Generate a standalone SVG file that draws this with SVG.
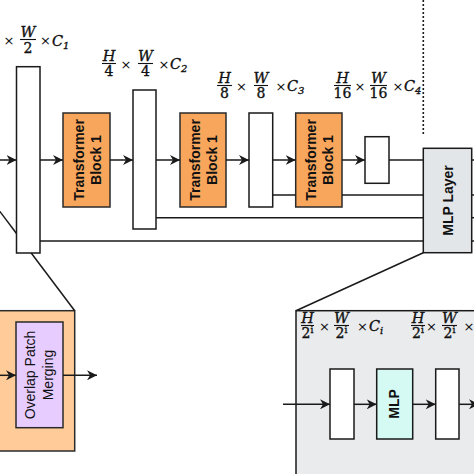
<svg xmlns="http://www.w3.org/2000/svg" width="474" height="474" viewBox="0 0 474 474">
<defs>
<marker id="ah" viewBox="-10 -5 10 10" refX="0" refY="0" markerWidth="10" markerHeight="10" markerUnits="userSpaceOnUse" orient="auto">
<path d="M-10,-5 L0,0 L-10,5 L-7,0 z" fill="#1a1a1a"/>
</marker>
<style>
.c{fill:none;stroke:#1a1a1a;stroke-width:1.5}
.a{marker-end:url(#ah)}
.box{fill:#ffffff;stroke:#1a1a1a;stroke-width:1.5}
.tb{fill:#F7A65C;stroke:#2a2a2a;stroke-width:1.5}
.bt{font-family:"Liberation Sans",Arial,sans-serif;font-weight:bold;font-size:14px;fill:#111;text-anchor:middle}
.rt{font-family:"Liberation Sans",Arial,sans-serif;font-size:14px;fill:#111;text-anchor:middle}
.m{font-family:"DejaVu Serif","Liberation Serif",serif;font-size:14px;fill:#111;stroke:#111;stroke-width:0.35;text-anchor:middle}
.x{font-family:"DejaVu Sans","Liberation Sans",sans-serif;font-size:13px;fill:#111;text-anchor:middle}
.mi{font-family:"DejaVu Serif","Liberation Serif",serif;font-size:14.5px;font-style:italic;fill:#111;stroke:#111;stroke-width:0.35}
.fl{stroke:#111;stroke-width:1.1}
</style>
</defs>

<!-- nodes -->
<g id="patch-merging-detail">
<rect x="-2" y="310.7" width="76.7" height="140.3" fill="#FFCC99" stroke="#2a2a2a" stroke-width="1.5"/>
<rect x="16" y="322" width="47" height="105.7" fill="#E6CCFF" stroke="#2a2a2a" stroke-width="1.5"/>
<g transform="translate(39.5,375) rotate(-90)">
<text class="rt" x="0" y="-4.5">Overlap Patch</text>
<text class="rt" x="0" y="13.5">Merging</text>
</g>
</g>

<g id="mlp-detail">
<rect x="296" y="310.7" width="200" height="200" fill="#E9EBED" stroke="#1a1a1a" stroke-width="1.5"/>
<g id="label-i">
<text class="mi" x="307.5" y="323" text-anchor="middle">H</text>
<line class="fl" x1="301" y1="325.5" x2="314" y2="325.5"/>
<text class="m" x="307.5" y="338">2<tspan font-size="9" dy="-5">i</tspan></text>
<text class="x" x="324.5" y="330.5">×</text>
<text class="mi" x="341.5" y="323" text-anchor="middle">W</text>
<line class="fl" x1="334" y1="325.5" x2="349" y2="325.5"/>
<text class="m" x="341.5" y="338">2<tspan font-size="9" dy="-5">i</tspan></text>
<text class="x" x="362.5" y="330.5">×</text>
<text class="mi" x="369" y="330.5">C<tspan font-size="10" dy="3">i</tspan></text>
</g>
<g id="label-i2">
<text class="mi" x="418" y="323" text-anchor="middle">H</text>
<line class="fl" x1="411" y1="325.5" x2="425" y2="325.5"/>
<text class="m" x="418" y="338">2<tspan font-size="9" dy="-5">i</tspan></text>
<text class="x" x="431.5" y="330.5">×</text>
<text class="mi" x="449.5" y="323" text-anchor="middle">W</text>
<line class="fl" x1="442" y1="325.5" x2="457" y2="325.5"/>
<text class="m" x="449.5" y="338">2<tspan font-size="9" dy="-5">i</tspan></text>
<text class="x" x="469" y="330.5">×</text>
</g>
</g>

<g id="feat1"><rect class="box" x="16.5" y="66.7" width="23.5" height="186.3"/></g>
<g id="feat2"><rect class="box" x="133" y="90" width="23" height="139"/></g>
<g id="feat3"><rect class="box" x="249" y="113" width="23.7" height="94"/></g>
<g id="feat4"><rect class="box" x="365" y="136.7" width="24" height="46.6"/></g>

<g id="tblock1">
<rect class="tb" x="63" y="113" width="47" height="94"/>
<g transform="translate(86.5,160) rotate(-90)"><text class="bt" x="0" y="-3">Transformer</text><text class="bt" x="0" y="14">Block 1</text></g>
</g>
<g id="tblock2">
<rect class="tb" x="180" y="113" width="46" height="94"/>
<g transform="translate(203,160) rotate(-90)"><text class="bt" x="0" y="-3">Transformer</text><text class="bt" x="0" y="14">Block 1</text></g>
</g>
<g id="tblock3">
<rect class="tb" x="295.7" y="113" width="46.3" height="94"/>
<g transform="translate(318.8,160) rotate(-90)"><text class="bt" x="0" y="-3">Transformer</text><text class="bt" x="0" y="14">Block 1</text></g>
</g>

<g id="mlp-layer">
<rect x="423.3" y="148.3" width="48.4" height="104.4" fill="#E3E6E8" stroke="#1a1a1a" stroke-width="1.5"/>
<g transform="translate(447.5,200.5) rotate(-90)"><text class="bt" x="0" y="5">MLP Layer</text></g>
</g>

<g id="in-box-a"><rect class="box" x="330" y="369" width="24" height="70"/></g>
<g id="mlp">
<rect x="376.7" y="369" width="36" height="70" fill="#D4FAF3" stroke="#1a1a1a" stroke-width="1.5"/>
<g transform="translate(394.7,404) rotate(-90)"><text class="bt" x="0" y="4.5" font-size="13">MLP</text></g>
</g>
<g id="in-box-b"><rect class="box" x="435.7" y="369" width="23.3" height="70"/></g>

<!-- labels -->
<g id="label1">
<text class="x" x="9" y="45">×</text>
<text class="mi" x="28" y="37" text-anchor="middle">W</text>
<line class="fl" x1="20" y1="39.5" x2="36" y2="39.5"/>
<text class="m" x="28" y="52.5">2</text>
<text class="x" x="45.5" y="45">×</text>
<text class="mi" x="52" y="45.5">C<tspan font-size="10" dy="3">1</tspan></text>
</g>
<g id="label2">
<text class="mi" x="109" y="61" text-anchor="middle">H</text>
<line class="fl" x1="102" y1="63.5" x2="116" y2="63.5"/>
<text class="m" x="109" y="76">4</text>
<text class="x" x="126" y="68.5">×</text>
<text class="mi" x="145.5" y="61" text-anchor="middle">W</text>
<line class="fl" x1="138" y1="63.5" x2="153" y2="63.5"/>
<text class="m" x="145.5" y="76">4</text>
<text class="x" x="164" y="68.5">×</text>
<text class="mi" x="170" y="69">C<tspan font-size="10" dy="3">2</tspan></text>
</g>
<g id="label3">
<text class="mi" x="224.5" y="83" text-anchor="middle">H</text>
<line class="fl" x1="217" y1="85.5" x2="232" y2="85.5"/>
<text class="m" x="224.5" y="98">8</text>
<text class="x" x="241.5" y="90.5">×</text>
<text class="mi" x="261" y="83" text-anchor="middle">W</text>
<line class="fl" x1="254" y1="85.5" x2="268" y2="85.5"/>
<text class="m" x="261" y="98">8</text>
<text class="x" x="281" y="90.5">×</text>
<text class="mi" x="287" y="91">C<tspan font-size="10" dy="3">3</tspan></text>
</g>
<g id="label4">
<text class="mi" x="342.5" y="83" text-anchor="middle">H</text>
<line class="fl" x1="334" y1="85.5" x2="351" y2="85.5"/>
<text class="m" x="342.5" y="98">16</text>
<text class="x" x="360" y="90.5">×</text>
<text class="mi" x="378.5" y="83" text-anchor="middle">W</text>
<line class="fl" x1="370" y1="85.5" x2="387" y2="85.5"/>
<text class="m" x="378.5" y="98">16</text>
<text class="x" x="398" y="90.5">×</text>
<text class="mi" x="404" y="91">C<tspan font-size="10" dy="3">4</tspan></text>
</g>

<!-- connectors -->
<g id="connectors">
<line x1="423.3" y1="0" x2="423.3" y2="135" stroke="#1a1a1a" stroke-width="1.6" stroke-dasharray="2,2"/>
<line class="c a" x1="-2" y1="160" x2="16.5" y2="160"/>
<line class="c a" x1="40" y1="160" x2="63" y2="160"/>
<line class="c a" x1="110" y1="160" x2="133" y2="160"/>
<line class="c a" x1="156" y1="160" x2="180" y2="160"/>
<line class="c a" x1="226" y1="160" x2="249" y2="160"/>
<line class="c a" x1="272.7" y1="160" x2="295.7" y2="160"/>
<line class="c a" x1="342" y1="160" x2="365" y2="160"/>
<line class="c" x1="389" y1="160" x2="423.3" y2="160"/>
<line class="c" x1="272.7" y1="195" x2="295.7" y2="195"/>
<line class="c" x1="342" y1="195" x2="423.3" y2="195"/>
<line class="c" x1="156" y1="217.7" x2="423.3" y2="217.7"/>
<line class="c" x1="40" y1="241" x2="423.3" y2="241"/>
<line class="c" x1="471.7" y1="160" x2="476" y2="160"/>
<line class="c" x1="471.7" y1="195" x2="476" y2="195"/>
<line class="c" x1="471.7" y1="217.7" x2="476" y2="217.7"/>
<line class="c" x1="471.7" y1="241" x2="476" y2="241"/>
<line class="c" x1="-5" y1="205" x2="16.5" y2="233.5"/>
<line class="c" x1="31.2" y1="253" x2="74.7" y2="310.7"/>
<line class="c" x1="423.3" y1="252.7" x2="296" y2="310.7"/>
<line class="c a" x1="-2" y1="375.3" x2="16" y2="375.3"/>
<line class="c a" x1="63" y1="375.3" x2="97" y2="375.3"/>
<line class="c a" x1="283" y1="404.3" x2="330" y2="404.3"/>
<line class="c a" x1="354" y1="404.3" x2="376.7" y2="404.3"/>
<line class="c a" x1="412.7" y1="404.3" x2="435.7" y2="404.3"/>
<line class="c a" x1="459" y1="404.3" x2="479" y2="404.3"/>
</g>
</svg>
